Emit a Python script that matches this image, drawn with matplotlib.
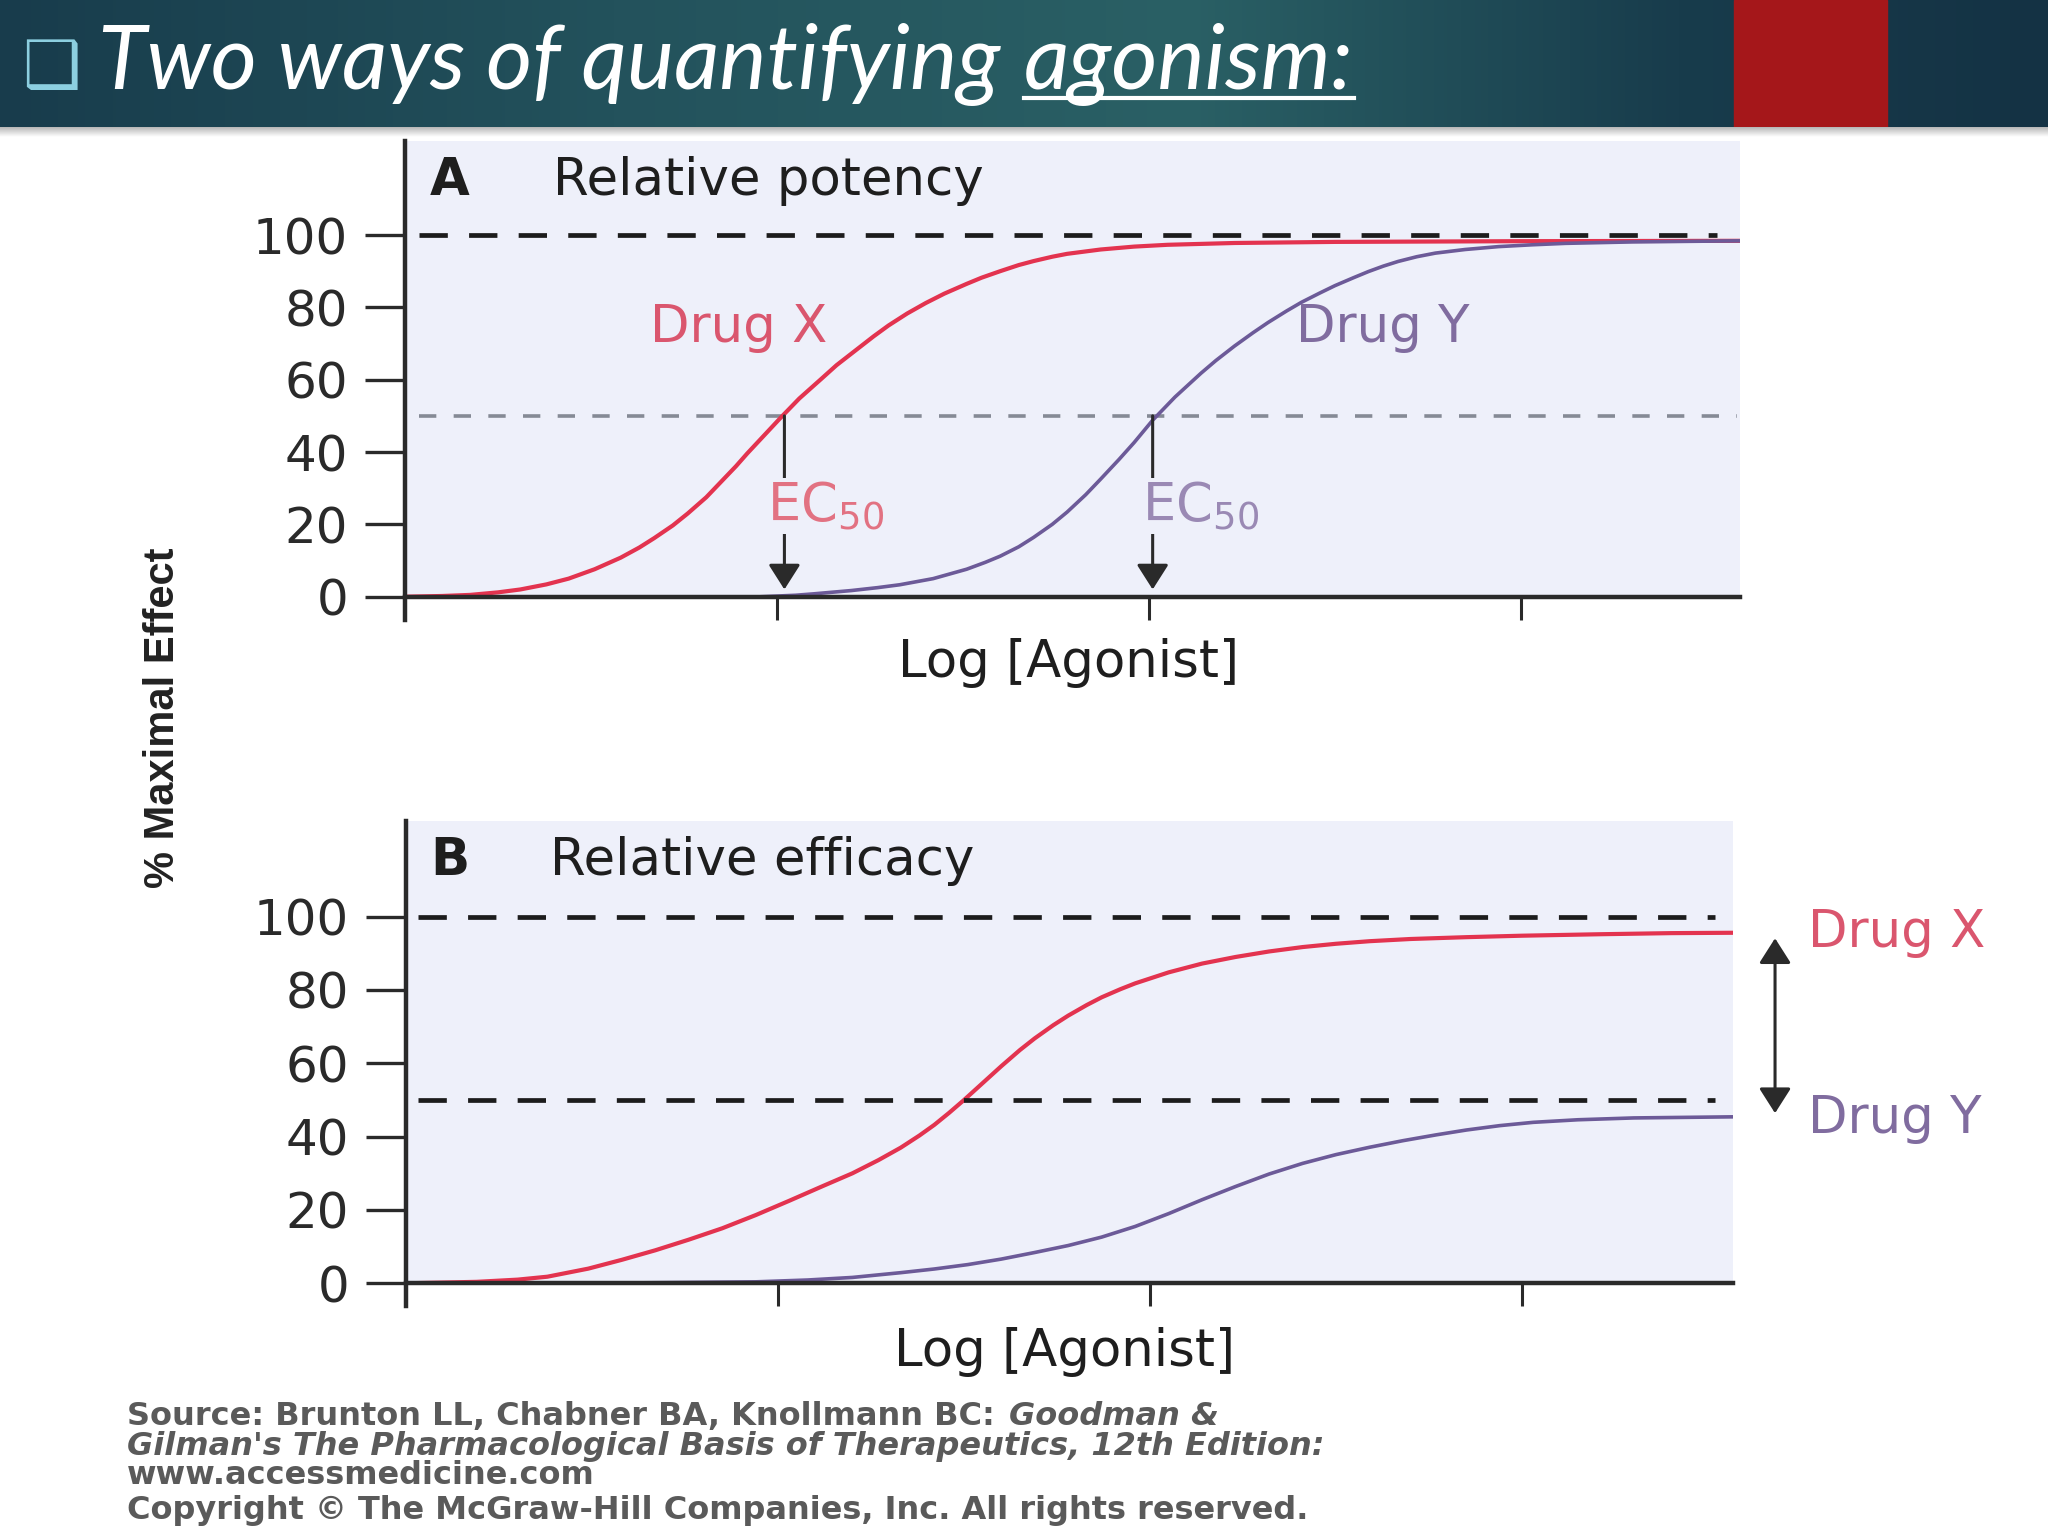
import numpy as np
import matplotlib
matplotlib.use('Agg')
import matplotlib.pyplot as plt
from matplotlib.patches import Rectangle
from matplotlib.lines import Line2D

# --- values (x = log[agonist], ticks at 1, 2, 3) ---
potency_x_logc = [0.0, 0.10, 0.175, 0.25, 0.31, 0.38, 0.44, 0.51, 0.58, 0.63, 0.67, 0.72, 0.76,
                  0.81, 0.85, 0.89, 0.92, 0.96, 1.01, 1.06, 1.12, 1.16, 1.21, 1.26, 1.30, 1.35,
                  1.40, 1.45, 1.51, 1.55, 1.60, 1.65, 1.69, 1.74, 1.78, 1.87, 1.96, 2.05, 2.23,
                  2.50, 3.00, 3.589]
potency_x_effect = [0.0, 0.2, 0.5, 1.2, 2.0, 3.4, 5.0, 7.6, 10.8, 13.6, 16.2, 19.7, 23.0,
                    27.5, 31.8, 36.1, 39.6, 44.0, 49.5, 54.8, 60.3, 64.0, 68.0, 72.0, 75.0, 78.3,
                    81.2, 83.8, 86.5, 88.2, 90.0, 91.7, 92.8, 94.0, 94.8, 96.0, 96.8, 97.3, 97.8,
                    98.1, 98.3, 98.4]

potency_y_logc = [0.96, 1.05, 1.10, 1.20, 1.27, 1.33, 1.42, 1.51, 1.56, 1.60, 1.65, 1.69, 1.74,
                  1.78, 1.83, 1.87, 1.92, 1.96, 2.01, 2.07, 2.14, 2.18, 2.23, 2.28, 2.32, 2.37,
                  2.41, 2.46, 2.50, 2.55, 2.59, 2.63, 2.67, 2.72, 2.77, 2.85, 2.94, 3.03, 3.12,
                  3.30, 3.589]
potency_y_effect = [0.0, 0.4, 0.8, 1.7, 2.5, 3.3, 5.0, 7.6, 9.5, 11.2, 13.8, 16.4, 20.0,
                    23.4, 28.2, 32.5, 38.0, 42.6, 48.8, 55.2, 61.8, 65.3, 69.3, 73.0, 75.8, 79.0,
                    81.4, 84.0, 86.0, 88.2, 89.9, 91.4, 92.7, 94.0, 95.0, 96.0, 96.8, 97.3, 97.7,
                    98.1, 98.4]

efficacy_x_logc = [0.0, 0.19, 0.30, 0.38, 0.49, 0.58, 0.67, 0.76, 0.85, 0.94, 1.03, 1.12, 1.20,
                   1.27, 1.33, 1.38, 1.42, 1.46, 1.50, 1.55, 1.60, 1.65, 1.69, 1.74, 1.78, 1.83,
                   1.87, 1.92, 1.96, 2.05, 2.14, 2.23, 2.32, 2.41, 2.50, 2.59, 2.70, 2.85, 3.00,
                   3.21, 3.40, 3.567]
efficacy_x_effect = [0.0, 0.4, 1.0, 1.8, 4.0, 6.4, 9.0, 11.9, 15.0, 18.6, 22.5, 26.5, 30.0,
                     33.6, 37.0, 40.3, 43.2, 46.5, 50.0, 54.6, 59.2, 63.6, 66.8, 70.4, 73.0, 75.9,
                     78.0, 80.2, 81.8, 84.8, 87.2, 89.0, 90.5, 91.7, 92.6, 93.3, 93.9, 94.4, 94.8,
                     95.2, 95.5, 95.6]

efficacy_y_logc = [0.2, 0.6, 0.94, 1.08, 1.20, 1.33, 1.42, 1.51, 1.60, 1.69, 1.78, 1.87, 1.96,
                   2.05, 2.14, 2.23, 2.32, 2.41, 2.50, 2.59, 2.68, 2.77, 2.85, 2.94, 3.03, 3.15,
                   3.30, 3.567]
efficacy_y_effect = [0.0, 0.1, 0.4, 0.9, 1.6, 2.9, 3.9, 5.1, 6.6, 8.4, 10.3, 12.6, 15.5,
                     19.0, 22.8, 26.4, 29.8, 32.7, 35.1, 37.1, 38.9, 40.5, 41.8, 43.0, 43.9, 44.6,
                     45.1, 45.4]

y_ticks = [0, 20, 40, 60, 80, 100]
x_ticks = [1, 2, 3]
ec50_a = [1.02, 2.01]          # EC50 arrows, panel A
efficacy_gap = [46.4, 94.1]    # double arrow, panel B

source_lines = [
    'Source: Brunton LL, Chabner BA, Knollmann BC:',
    "Gilman's The Pharmacological Basis of Therapeutics, 12th Edition:",
    'www.accessmedicine.com',
    'Copyright \u00a9 The McGraw-Hill Companies, Inc. All rights reserved.',
]

# --- style ---
W, H = 2048, 1536
PANEL_BG = '#EEF0FA'
AXIS_C = '#2a2a2a'
RED = '#E3334F'
PURPLE = '#6C5A98'
RED_TXT = '#DA566E'
PURPLE_TXT = '#806C9F'
EC_RED = '#E27282'
EC_PURPLE = '#9A89B4'
FS = 37
SRC_FS = 23
TITLE_FS = 64


def fx(px):
    return px / W


def fy(py):
    return 1 - py / H


fig = plt.figure(figsize=(W / 100, H / 100), dpi=100)
fig.patch.set_facecolor('white')

# --- title bar ---
bar = fig.add_axes([0, fy(127), 1, 127 / H])
stops = [0.0, 0.30, 0.58, 0.82, 1.0]
cols = np.array([[24, 60, 76], [35, 82, 92], [42, 96, 101], [24, 60, 76], [20, 50, 68]]) / 255
xs = np.linspace(0, 1, 600)
grad = np.stack([np.interp(xs, stops, cols[:, k]) for k in range(3)], axis=-1)[None, :, :]
bar.imshow(grad, aspect='auto', extent=(0, W, 127, 0))
bar.add_patch(Rectangle((1734, 0), 153, 127, color='#A5171A'))
bar.set_xlim(0, W)
bar.set_ylim(127, 0)
bar.axis('off')

shadow = fig.add_axes([0, fy(137), 1, 10 / H])
shade = np.linspace(0.72, 1.0, 20)[:, None] * np.ones((1, 10))
shadow.imshow(np.stack([shade] * 3, axis=-1), aspect='auto')
shadow.axis('off')

fig.text(fx(22), fy(87), '\u2751', fontsize=47, color='#8CCFE0', family='DejaVu Sans', va='baseline')
t1 = fig.text(fx(98), fy(89), 'Two ways of quantifying', fontsize=TITLE_FS, family='Lato',
              style='italic', weight='normal', color='white', va='baseline')

# --- panels ---
ax_a = fig.add_axes([fx(405), fy(596.7), fx(1740) - fx(405), 455.7 / H])
ax_b = fig.add_axes([fx(406), fy(1283.3), fx(1733) - fx(406), 462.0 / H])


def setup_panel(ax, xmax, px_per_unit):
    ax.set_facecolor(PANEL_BG)
    ax.set_xlim(0, xmax)
    ax.set_ylim(0, 126)
    for s in ['top', 'right']:
        ax.spines[s].set_visible(False)
    for s in ['left', 'bottom']:
        ax.spines[s].set_linewidth(3.2)
        ax.spines[s].set_color(AXIS_C)
    ax.spines['left'].set_bounds(-23 / px_per_unit, 126)
    ax.set_yticks(y_ticks)
    ax.set_xticks(x_ticks)
    ax.set_xticklabels([])
    ax.tick_params(axis='y', length=29, width=2.4, pad=12, labelsize=36, colors=AXIS_C)
    ax.tick_params(axis='x', length=16.5, width=2.2, direction='out', color=AXIS_C)


setup_panel(ax_a, 3.589, 3.617)
setup_panel(ax_b, 3.567, 3.666)

dash_big = (0, (6, 4.5))
dash_small = (0, (4.8, 4.8))

# panel A
ax_a.plot(potency_x_logc, potency_x_effect, color=RED, lw=3, zorder=2)
ax_a.plot(potency_y_logc, potency_y_effect, color=PURPLE, lw=2.6, zorder=2)
ax_a.hlines(100, 0.038, 3.526, color='#1c1c1c', lw=3.4, linestyles=[dash_big], zorder=3)
ax_a.hlines(50, 0.038, 3.58, color='#858a95', lw=2.6, linestyles=[dash_small], zorder=1.5)
for xe in ec50_a:
    ax_a.annotate('', xy=(xe, 2.0), xytext=(xe, 50),
                  arrowprops=dict(arrowstyle='-|>,head_length=0.55,head_width=0.35',
                                  color=AXIS_C, lw=2.2, shrinkA=0, shrinkB=0,
                                  mutation_scale=28), zorder=3)
ec_box = dict(facecolor=PANEL_BG, edgecolor='none', pad=1)
ax_a.text(0.972, 20.8, 'EC$_{50}$', color=EC_RED, fontsize=38, va='baseline', bbox=ec_box, zorder=5)
ax_a.text(1.98, 20.8, 'EC$_{50}$', color=EC_PURPLE, fontsize=38, va='baseline', bbox=ec_box, zorder=5)
ax_a.text(0.659, 70.5, 'Drug X', color=RED_TXT, fontsize=FS, va='baseline')
ax_a.text(2.395, 70.5, 'Drug Y', color=PURPLE_TXT, fontsize=FS, va='baseline')
ax_a.text(0.067, 111, 'A', color='#1e1e1e', fontsize=FS, weight='bold', va='baseline')
ax_a.text(0.398, 111, 'Relative potency', color='#1e1e1e', fontsize=FS, va='baseline')

# panel B
ax_b.plot(efficacy_x_logc, efficacy_x_effect, color=RED, lw=3, zorder=2)
ax_b.plot(efficacy_y_logc, efficacy_y_effect, color=PURPLE, lw=2.6, zorder=2)
ax_b.hlines([100, 50], 0.032, 3.519, color='#1c1c1c', lw=3.4, linestyles=[dash_big], zorder=3)
ax_b.annotate('', xy=(3.68, efficacy_gap[1]), xytext=(3.68, efficacy_gap[0]),
              arrowprops=dict(arrowstyle='<|-|>,head_length=0.55,head_width=0.35',
                              color=AXIS_C, lw=2.2, shrinkA=0, shrinkB=0,
                              mutation_scale=28), annotation_clip=False)
ax_b.text(3.769, 91.8, 'Drug X', color=RED_TXT, fontsize=FS, va='baseline', clip_on=False)
ax_b.text(3.769, 40.9, 'Drug Y', color=PURPLE_TXT, fontsize=FS, va='baseline', clip_on=False)
ax_b.text(0.065, 111.4, 'B', color='#1e1e1e', fontsize=FS, weight='bold', va='baseline')
ax_b.text(0.387, 111.4, 'Relative efficacy', color='#1e1e1e', fontsize=FS, va='baseline')

# axis labels
fig.text(fx(1068), fy(663), 'Log [Agonist]', fontsize=FS, color='#1e1e1e', ha='center', va='center')
fig.text(fx(1064), fy(1352), 'Log [Agonist]', fontsize=FS, color='#1e1e1e', ha='center', va='center')
fig.text(fx(163), fy(718), '% Maximal Effect', rotation=90, fontsize=30,
         family='Liberation Sans', weight='bold',
         color='#222222', ha='center', va='center')

# source block
SRC_C = '#5a5a5a'
baselines = [1425, 1455, 1484, 1519]
s1 = fig.text(fx(127), fy(baselines[0]), source_lines[0], fontsize=SRC_FS, weight='bold', color=SRC_C, va='baseline')
fig.text(fx(127), fy(baselines[1]), source_lines[1], fontsize=SRC_FS, weight='bold', style='italic', color=SRC_C, va='baseline')
fig.text(fx(127), fy(baselines[2]), source_lines[2], fontsize=SRC_FS, weight='bold', color=SRC_C, va='baseline')
fig.text(fx(127), fy(baselines[3]), source_lines[3], fontsize=SRC_FS, weight='bold', color=SRC_C, va='baseline')

# pieces that follow other text on the same line
fig.canvas.draw()
r = fig.canvas.get_renderer()
bb1 = t1.get_window_extent(r)
t2 = fig.text((bb1.x1 + 24) / W, fy(89), 'agonism:', fontsize=TITLE_FS, family='Lato',
              style='italic', weight='normal', color='white', va='baseline')
bbs = s1.get_window_extent(r)
fig.text((bbs.x1 + 14) / W, fy(baselines[0]), 'Goodman &', fontsize=SRC_FS, weight='bold',
         style='italic', color=SRC_C, va='baseline')
fig.canvas.draw()
bb2 = t2.get_window_extent(r)
fig.add_artist(Line2D([bb2.x0 / W, bb2.x1 / W], [fy(98), fy(98)], color='white', lw=3))

fig.savefig('out.png', dpi=100)
